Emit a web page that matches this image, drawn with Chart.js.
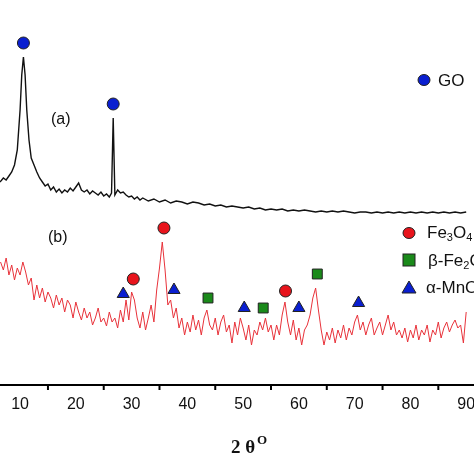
<!DOCTYPE html>
<html>
<head>
<script src="https://cdn.jsdelivr.net/npm/chart.js@4"></script>
<style>
  html, body { margin: 0; padding: 0; background: #fff; }
  #wrap { width: 474px; height: 474px; }
</style>
</head>
<body>
<div id="wrap"><canvas id="xrd"></canvas></div>
<script>
// offsets measured down from the top of the plot (reversed y axis)
const goAngles = [6.4,7,7.5,8,8.5,9,9.5,10,10.3,10.6,10.9,11.2,11.6,12,12.5,13,13.5,14,14.5,15,15.5,16,16.5,17,17.5,18,18.5,19,19.5,20,20.5,21,21.5,22,22.5,23,23.5,24,24.5,25,25.5,26,26.4,26.7,27,27.5,28,28.5,29,29.5,30,30.5,31,31.5,32,33,34,35,36,37,38,39,40,41,42,43,44,45,46,47,48,49,50,51,52,53,54,55,56,57,58,59,60,61,62,63,64,65,66,67,68,69,70,71,72,73,74,75,76,77,78,79,80,81,82,83,84,85,86,87,88,89,90];
const goValues = [182,178,180,176,172,165,150,110,75,57,75,110,140,158,165,172,178,182,186,184,190,187,192,189,193,190,192,188,191,187,183,190,192,190,194,191,193,195,192,196,194,197,193,118,195,190,193,192,195,197,196,199,197,200,198,201,199,202,200,203,201,202,204,202,203,205,204,206,205,207,206,207,208,207,209,208,210,209,210,209,211,210,211,210,211,212,211,212,211,212,211,212,213,212,212,213,212,213,212,213,212,213,212,213,212,213,212,213,212,213,212,213,212];

const compAngles = [];
for (let a = 6.5; a <= 90.01; a += 0.5) compAngles.push(a);
const compValues = [262,270,258,275,265,280,268,275,262,272,285,278,300,285,298,288,302,292,298,308,295,305,298,312,300,305,318,302,312,320,308,318,312,325,318,308,322,318,326,312,322,318,328,310,322,300,320,292,300,318,328,312,330,318,305,322,290,268,242,270,305,300,318,308,328,318,335,322,332,315,330,320,335,318,310,325,330,318,335,322,315,332,325,343,322,335,318,328,340,325,345,330,335,322,330,318,332,325,340,325,335,315,302,322,335,320,340,328,345,330,325,315,298,288,310,330,345,332,340,328,343,330,338,325,340,328,335,322,315,330,322,335,325,318,335,328,322,335,325,315,330,322,335,330,338,328,342,330,338,325,340,330,335,325,342,330,335,322,338,328,322,332,325,320,328,325,343,312];

const goMarks = [[10.6, 43], [26.7, 104]];
const fe3o4Marks = [[30.3, 279], [35.8, 228], [57.6, 291]];
const fe2o3Marks = [[43.7, 298], [53.6, 308], [63.3, 274]];
const mno2Marks = [[28.5, 294], [37.6, 290], [50.2, 308], [60.0, 308], [70.7, 303]];
const xTicks = [10, 20, 30, 40, 50, 60, 70, 80, 90];

const toPts = (xs, ys) => xs.map((x, i) => ({ x: x, y: ys[i] }));
const toMarks = arr => arr.map(p => ({ x: p[0], y: p[1] }));

const FONT = '"Liberation Sans", Arial, sans-serif';

function sub(ctx, parts, x, y) {
    // parts: [text, isSub]
    parts.forEach(p => {
        ctx.font = (p[1] ? '11px ' : '17px ') + FONT;
        ctx.fillText(p[0], x, y + (p[1] ? 5 : 0));
        x += ctx.measureText(p[0]).width;
    });
}

const extras = {
    id: 'extras',
    afterDraw(chart) {
        const ctx = chart.ctx;
        const xs = chart.scales.x;
        const bottom = chart.chartArea.bottom;
        ctx.save();
        ctx.strokeStyle = '#000';
        ctx.lineWidth = 2;
        for (let v = 15; v <= 90; v += 10) {
            const px = xs.getPixelForValue(v);
            ctx.beginPath(); ctx.moveTo(px, bottom); ctx.lineTo(px, bottom + 5); ctx.stroke();
        }
        // tick labels
        ctx.fillStyle = '#111';
        ctx.textAlign = 'center';
        ctx.textBaseline = 'middle';
        ctx.font = '16px ' + FONT;
        xTicks.forEach(v => ctx.fillText(String(v), xs.getPixelForValue(v), bottom + 20));
        ctx.textAlign = 'left';
        ctx.fillText('(a)', 51, 120);
        ctx.fillText('(b)', 48, 238);
        // legend
        const dot = (x, y, fill) => {
            ctx.beginPath(); ctx.ellipse(x, y, 6, 5.5, 0, 0, Math.PI * 2);
            ctx.fillStyle = fill; ctx.fill(); ctx.lineWidth = 1; ctx.strokeStyle = '#222'; ctx.stroke();
        };
        dot(424, 80, '#0a1fd0');
        ctx.fillStyle = '#111';
        ctx.font = '17px ' + FONT;
        ctx.fillText('GO', 438, 81);
        dot(409, 233, '#e8141c');
        ctx.fillStyle = '#111';
        sub(ctx, [['Fe', 0], ['3', 1], ['O', 0], ['4', 1]], 427, 233);
        ctx.fillStyle = '#1a8a1a'; ctx.strokeStyle = '#222';
        ctx.fillRect(403, 254, 12, 12); ctx.strokeRect(403, 254, 12, 12);
        ctx.fillStyle = '#111';
        sub(ctx, [['\u03B2-Fe', 0], ['2', 1], ['O', 0], ['3', 1]], 428, 261);
        ctx.beginPath(); ctx.moveTo(409, 281); ctx.lineTo(416, 293); ctx.lineTo(402, 293); ctx.closePath();
        ctx.fillStyle = '#0a1fd0'; ctx.fill(); ctx.stroke();
        ctx.fillStyle = '#111';
        sub(ctx, [['\u03B1-MnO', 0], ['2', 1]], 426, 288);
        // axis title
        ctx.textAlign = 'center';
        ctx.font = 'bold 19px "Liberation Serif", serif';
        ctx.fillText('2 \u03B8', 243, 448);
        ctx.font = 'bold 13px "Liberation Serif", serif';
        ctx.fillText('O', 262, 441);
        ctx.restore();
    }
};

const markDs = (label, data, style, color, r) => ({
    type: 'scatter', label: label, data: toMarks(data), pointStyle: style,
    pointRadius: r, backgroundColor: color, borderColor: '#222', borderWidth: 1, showLine: false
});

new Chart(document.getElementById('xrd').getContext('2d'), {
    type: 'line',
    data: {
        datasets: [
            { label: '(a)', data: toPts(goAngles, goValues), borderColor: '#111', borderWidth: 1.4, pointRadius: 0, tension: 0 },
            { label: '(b)', data: toPts(compAngles, compValues), borderColor: '#e8323a', borderWidth: 1, pointRadius: 0, tension: 0 },
            markDs('GO', goMarks, 'circle', '#0a1fd0', 6),
            markDs('Fe3O4', fe3o4Marks, 'circle', '#e8141c', 6),
            markDs('β-Fe2O3', fe2o3Marks, 'rect', '#1a8a1a', 7),
            markDs('α-MnO2', mno2Marks, 'triangle', '#0a1fd0', 7)
        ]
    },
    options: {
        responsive: true,
        maintainAspectRatio: false,
        animation: false,
        layout: { autoPadding: false, padding: { left: 0, right: 0, top: 0, bottom: 81 } },
        plugins: { legend: { display: false }, tooltip: { enabled: false } },
        scales: {
            x: {
                type: 'linear', min: 6.4, max: 91.4,
                afterBuildTicks: s => { s.ticks = xTicks.map(v => ({ value: v })); },
                grid: { display: false, drawTicks: true, tickLength: 8, tickWidth: 2, tickColor: '#000' },
                border: { display: true, color: '#000', width: 2 },
                ticks: { display: false }
            },
            y: { display: false, reverse: true, min: 0, max: 385 }
        }
    },
    plugins: [extras]
});
</script>
</body>
</html>
